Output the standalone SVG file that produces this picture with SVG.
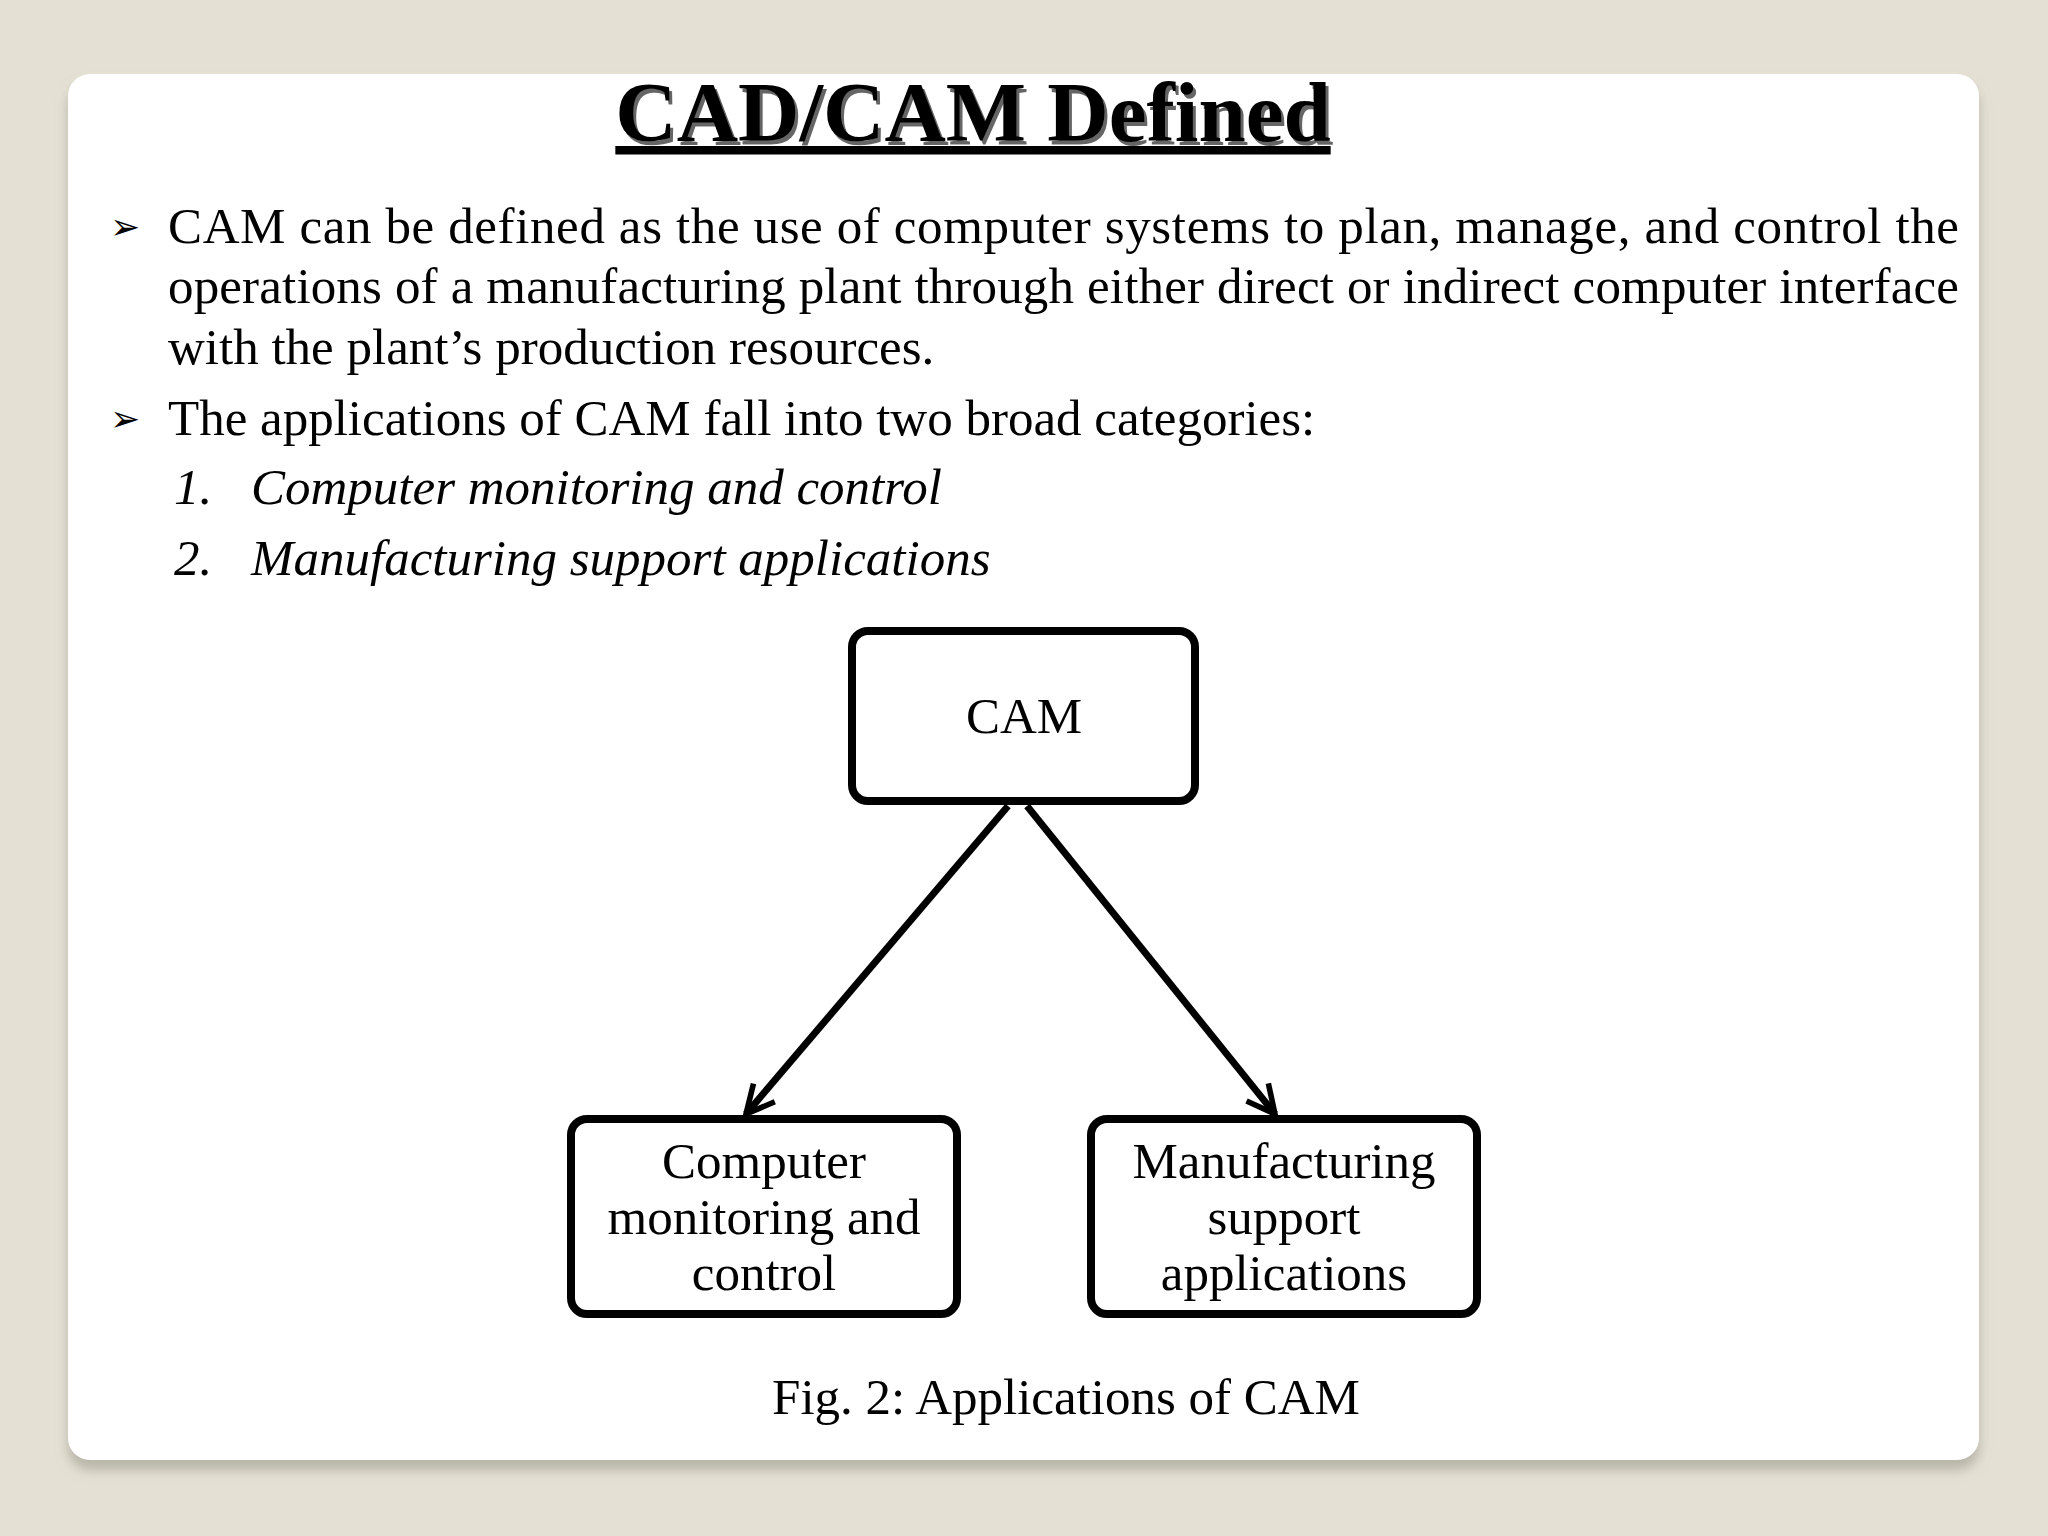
<svg xmlns="http://www.w3.org/2000/svg" width="2048" height="1536" viewBox="0 0 2048 1536">
<defs>
<style>
.t{font-family:"Liberation Serif","Times New Roman",serif;fill:#000}
.b{font-size:51px}
.n{fill:#fff;stroke:#000;stroke-width:8}
.c{stroke:#000;stroke-width:7;fill:none}
.l{font-size:51px;text-anchor:middle}
</style>
<marker id="ah" viewBox="0 0 10 10" refX="9" refY="5" markerWidth="5" markerHeight="5" orient="auto" markerUnits="strokeWidth"><path d="M1,1 L9,5 L1,9" fill="none" stroke="#000" stroke-width="1.6"/></marker>
<filter id="sh" x="-5%" y="-5%" width="110%" height="115%"><feDropShadow dx="0" dy="10" stdDeviation="6" flood-color="#9a9a8a" flood-opacity="0.6"/></filter>
</defs>
<rect width="2048" height="1536" fill="#e4e0d4"/>
<rect x="68" y="74" width="1911" height="1386" rx="22" fill="#fff" filter="url(#sh)"/>
<g id="title">
<text class="t" x="976" y="145" font-size="85" font-weight="bold" text-anchor="middle" fill="#999" opacity="0.6">CAD/CAM Defined</text>
<text class="t" x="973" y="141" font-size="85" font-weight="bold" text-anchor="middle" text-decoration="underline">CAD/CAM Defined</text>
</g>
<g id="bullets">
<text class="t" x="110" y="239" font-size="36">➢</text>
<text class="t b" x="168" y="243" textLength="1791" lengthAdjust="spacing">CAM can be defined as the use of computer systems to plan, manage, and control the</text>
<text class="t b" x="168" y="303" textLength="1791" lengthAdjust="spacing">operations of a manufacturing plant through either direct or indirect computer interface</text>
<text class="t b" x="168" y="364">with the plant’s production resources.</text>
<text class="t" x="110" y="431" font-size="36">➢</text>
<text class="t b" x="168" y="435">The applications of CAM fall into two broad categories:</text>
<text class="t b" x="174" y="504" font-style="italic">1.</text>
<text class="t b" x="251" y="504" font-style="italic">Computer monitoring and control</text>
<text class="t b" x="174" y="575" font-style="italic">2.</text>
<text class="t b" x="251" y="575" font-style="italic">Manufacturing support applications</text>
</g>
<g id="connectors">
<line class="c" x1="1008" y1="806" x2="746" y2="1114" marker-end="url(#ah)"/>
<line class="c" x1="1027" y1="806" x2="1275" y2="1114" marker-end="url(#ah)"/>
</g>
<g id="cam">
<rect class="n" x="852" y="631" width="343" height="170" rx="16"/>
<text class="t l" x="1024" y="733">CAM</text>
</g>
<g id="cmc">
<rect class="n" x="571" y="1119" width="386" height="195" rx="16"/>
<text class="t l" x="764" y="1178">Computer</text>
<text class="t l" x="764" y="1234">monitoring and</text>
<text class="t l" x="764" y="1290">control</text>
</g>
<g id="msa">
<rect class="n" x="1091" y="1119" width="386" height="195" rx="16"/>
<text class="t l" x="1284" y="1178">Manufacturing</text>
<text class="t l" x="1284" y="1234">support</text>
<text class="t l" x="1284" y="1290">applications</text>
</g>
<text class="t" x="1066" y="1414" font-size="51" text-anchor="middle">Fig. 2: Applications of CAM</text>
</svg>
